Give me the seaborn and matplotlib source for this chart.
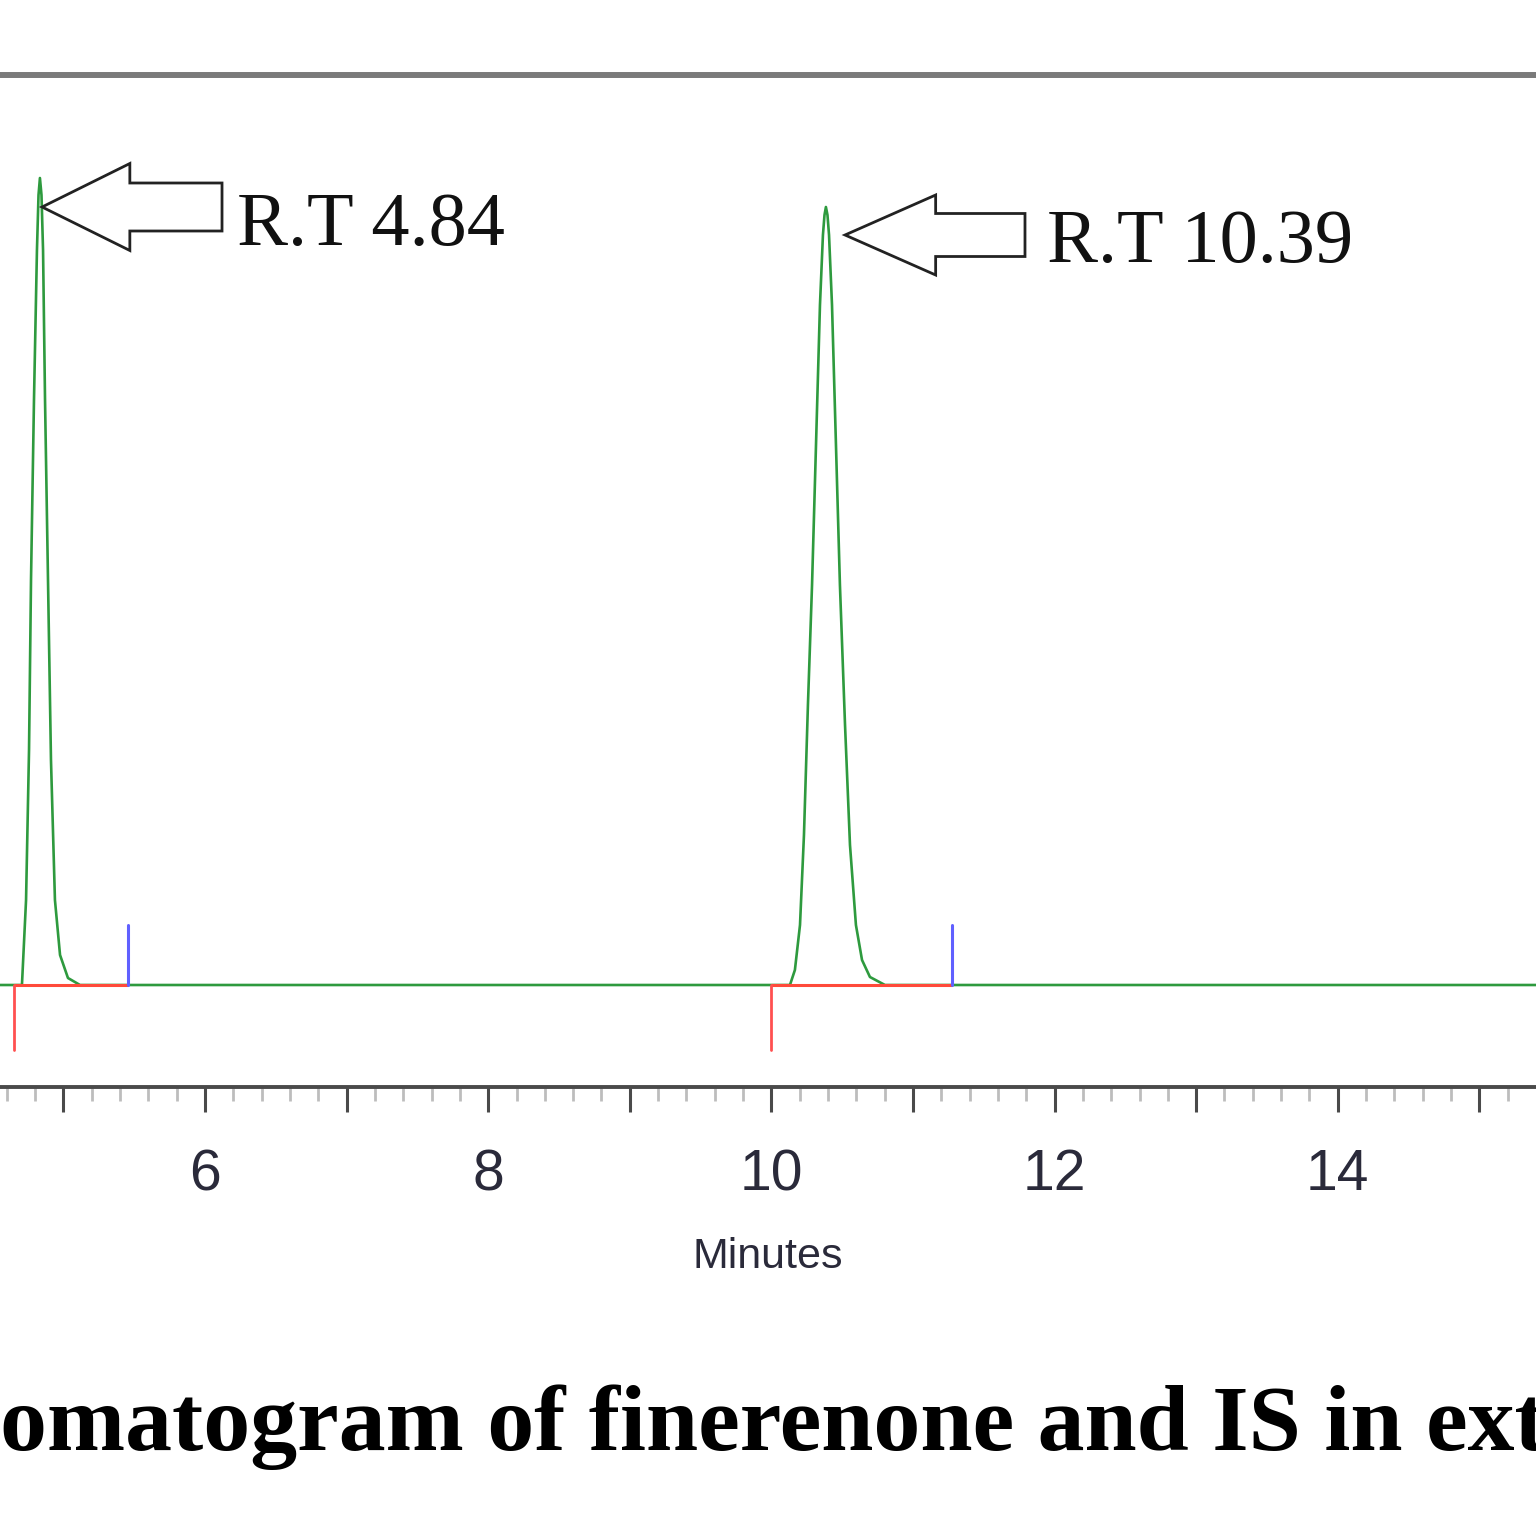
import matplotlib
matplotlib.use("Agg")
import matplotlib.pyplot as plt
import seaborn as sns
import pandas as pd
import numpy as np
from matplotlib.patches import FancyArrow
from matplotlib import font_manager

# ---------------- data ----------------
# visible time window (minutes)
x_window = [4.552, 15.400]

# peak 1 (finerenone) trace points: time (min), signal (arbitrary units)
peak1_time = [4.707, 4.736, 4.757, 4.771, 4.792, 4.813, 4.824, 4.834, 4.845,
              4.856, 4.870, 4.891, 4.912, 4.940, 4.976, 5.032, 5.117]
peak1_signal = [0, 85, 235, 405, 585, 735, 790, 807, 790,
                735, 585, 405, 225, 85, 30, 7, 0]

# peak 2 (IS) trace points
peak2_time = [10.131, 10.166, 10.202, 10.230, 10.258, 10.287, 10.315, 10.343,
              10.364, 10.375, 10.385, 10.396, 10.407, 10.428, 10.456, 10.484,
              10.520, 10.555, 10.597, 10.640, 10.696, 10.802]
peak2_signal = [0, 15, 60, 150, 280, 400, 540, 680,
                750, 770, 778, 770, 750, 680, 540, 400,
                260, 140, 60, 25, 8, 0]

# integration marks: peak start (red) and peak end (blue)
peak_start = [4.651, 9.997]
peak_end = [5.456, 11.275]
retention_times = [4.84, 10.39]
peak_labels = ["R.T 4.84", "R.T 10.39"]

major_ticks = [5, 6, 7, 8, 9, 10, 11, 12, 13, 14, 15]
labelled_ticks = [6, 8, 10, 12, 14]
x_label = "Minutes"
caption = "omatogram of finerenone and IS in ext"

# ---------------- build trace ----------------
time = [x_window[0]] + peak1_time + peak2_time + [x_window[1]]
signal = [0] + peak1_signal + peak2_signal + [0]
df = pd.DataFrame({"time": time, "signal": signal})

sns.set_style("white")
avail = {f.name for f in font_manager.fontManager.ttflist}
serif_family = ["Liberation Serif", "DejaVu Serif"]
tick_family = ["Liberation Sans Narrow"] if "Liberation Sans Narrow" in avail else ["Liberation Sans"]
plt.rcParams["font.family"] = ["Liberation Sans", "DejaVu Sans"]

W = H = 1536
fig = plt.figure(figsize=(15.36, 15.36), dpi=100)
# axes spans from y=75px (top frame line) to y=1087px (time axis)
ax = fig.add_axes([0.0, 1 - 1087 / H, 1.0, (1087 - 75) / H])

sns.lineplot(data=df, x="time", y="signal", ax=ax, color="#2e9a3e",
             linewidth=1.9, estimator=None, sort=False, zorder=3)

# integration baselines and markers
for s, e in zip(peak_start, peak_end):
    ax.plot([s, e], [0, 0], color="#ff4a3a", linewidth=2.2, zorder=4, solid_capstyle="butt")
    ax.plot([s, s], [0, -65], color="#ff5050", linewidth=2.0, zorder=4)
    ax.plot([e, e], [0, 60], color="#6060ff", linewidth=2.2, zorder=4)

ax.set_xlim(x_window)
ax.set_ylim(-102, 910)

# spines
for side in ["left", "right"]:
    ax.spines[side].set_visible(False)
ax.spines["top"].set_color("#7a7a7a")
ax.spines["top"].set_linewidth(4.3)
ax.spines["bottom"].set_color("#4a4a4a")
ax.spines["bottom"].set_linewidth(2.8)

# ticks
ax.set_yticks([])
ax.set_xticks(major_ticks)
ax.set_xticklabels([str(t) if t in labelled_ticks else "" for t in major_ticks])
minor = [round(4.6 + 0.2 * i, 1) for i in range(55)]
minor = [m for m in minor if abs(m - round(m)) > 1e-6 and x_window[0] < m < x_window[1]]
ax.set_xticks(minor, minor=True)
ax.tick_params(axis="x", which="both", bottom=True, top=False)
ax.tick_params(axis="x", which="major", direction="out", length=18, width=2.2,
               color="#4a4a4a", pad=26, labelsize=41, labelcolor="#2a2a3a")
ax.tick_params(axis="x", which="minor", direction="out", length=10, width=2.0,
               color="#bdbdbd")
for t, tk in zip(major_ticks, ax.xaxis.get_major_ticks()):
    if t not in labelled_ticks:
        tk.tick1line.set_color("#a8a8a8")
for lbl in ax.get_xticklabels():
    lbl.set_fontfamily(tick_family)

ax.set_xlabel(x_label, fontsize=31, color="#2a2a3a", labelpad=25,
              fontfamily=tick_family)
ax.set_ylabel("")

# annotations: hollow block arrows pointing to peak apexes
apex1 = (peak1_time[int(np.argmax(peak1_signal))], max(peak1_signal))
apex2 = (peak2_time[int(np.argmax(peak2_signal))], max(peak2_signal))
arrow_specs = [
    # tip x, tip y, tail x, shaft width, head width, head length
    (apex1[0] + 0.015, apex1[1] - 29, 6.120, 48, 87, 0.62),
    (apex2[0] + 0.135, apex2[1] - 28, 11.791, 43, 80, 0.64),
]
for (tx, ty, tail, w, hw, hl) in arrow_specs:
    arr = FancyArrow(tail, ty, tx - tail, 0, width=w, head_width=hw, head_length=hl,
                     length_includes_head=True, facecolor="white",
                     edgecolor="#222222", linewidth=2.0, zorder=5)
    ax.add_patch(arr)

label_pos = [(6.226, 740), (11.946, 723)]
for (lx, ly), txt in zip(label_pos, peak_labels):
    ax.text(lx, ly, txt, fontsize=55, fontfamily=serif_family, color="#111111",
            ha="left", va="baseline", zorder=6)

fig.text(0.0, 1 - 1450 / H, caption, fontsize=67.5, fontweight="bold",
         fontfamily=serif_family, color="black", ha="left", va="baseline")

fig.savefig("out.png", dpi=100, facecolor="white")
